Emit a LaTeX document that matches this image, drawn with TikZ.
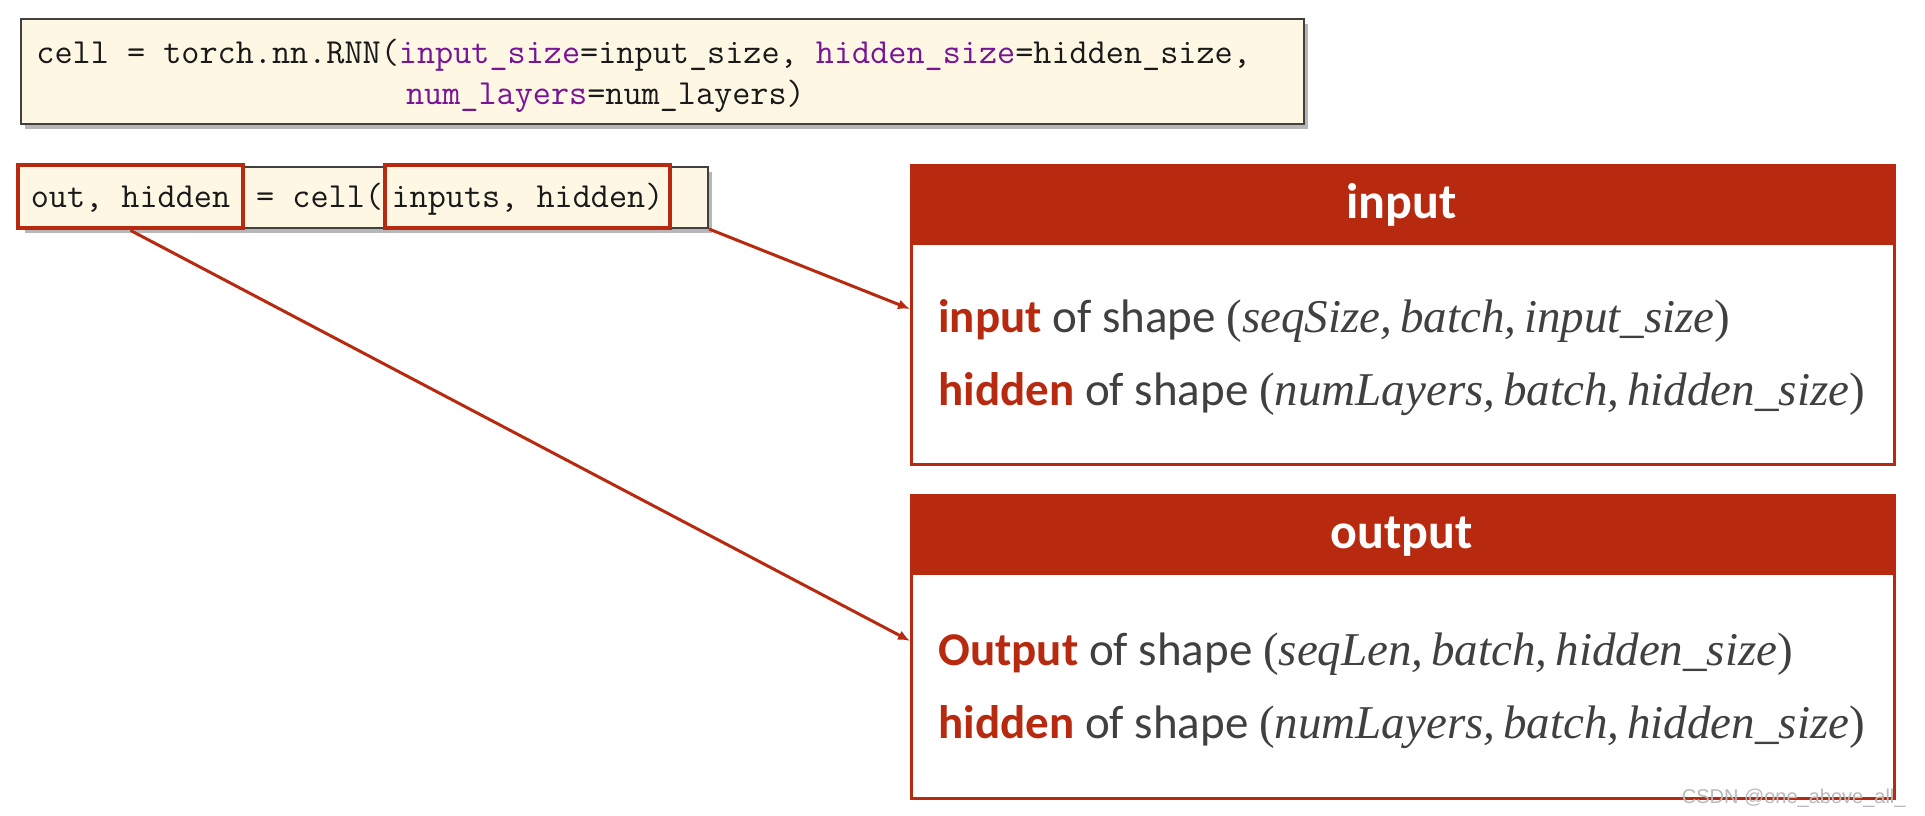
\documentclass[tikz,border=0pt]{standalone}
\usepackage{fontspec}
\setmainfont{Carlito}
\newfontfamily\markfont{Liberation Sans}
\newfontfamily\dimfont{Liberation Serif}
\usepackage{tikz}
\usetikzlibrary{arrows.meta, calc, shadows}
\definecolor{rnnRed}{RGB}{184,42,16}
\definecolor{rnnCream}{RGB}{254,247,228}
\definecolor{rnnPurple}{RGB}{120,20,150}
\definecolor{rnnGray}{RGB}{64,64,64}
\definecolor{rnnInk}{RGB}{25,25,25}
\newcommand{\argkw}[1]{\textcolor{rnnPurple}{#1}}
\newcommand{\redword}[1]{\textbf{\textcolor{rnnRed}{#1}}}
\newcommand{\dims}[1]{{\dimfont\fontsize{23.5}{28}\selectfont(\textit{#1})}}

\begin{document}
\begin{tikzpicture}[x=0.5pt, y=-0.5pt,
  codebox/.style={draw=rnnGray, line width=1pt, fill=rnnCream, inner sep=0pt,
    drop shadow={shadow xshift=2pt, shadow yshift=-2.5pt, fill=gray!80, opacity=0.7}},
  codetext/.style={inner sep=0pt, text=rnnInk, font=\ttfamily\fontsize{17.6}{20}\selectfont,
    text height=13pt, text depth=2.5pt},
  redframe/.style={codetext, draw=rnnRed, line width=2.4pt, fill=rnnCream, minimum height=31.5pt},
  boxframe/.style={draw=rnnRed, line width=1.5pt, inner sep=0pt, minimum width=491.5pt},
  headbar/.style={fill=rnnRed, inner sep=0pt, minimum width=491.5pt, minimum height=40.5pt},
  headtext/.style={text=white, font=\bfseries\fontsize{25}{30}\selectfont, inner sep=0pt},
  shapetext/.style={text=rnnGray, font=\fontsize{23.5}{28}\selectfont, inner sep=0pt},
  link/.style={draw=rnnRed, line width=1.5pt, -{Latex[length=6pt,width=5pt]}}]
  \fill[white] (0,0) rectangle (1925,815);
  \useasboundingbox (0,0) rectangle (1925,815);

  % constructor
  \node[codebox, anchor=north west, minimum width=641.5pt, minimum height=52.5pt] (rnnbox) at (20,18) {};
  \node[codetext, anchor=base west] (rnnline1) at (36,63)
    {cell = torch.nn.RNN(\argkw{input\_size}=input\_size, \argkw{hidden\_size}=hidden\_size,};
  \node[codetext, anchor=base west] (rnnline2) at (405.6,104) {\argkw{num\_layers}=num\_layers)};

  % call
  \node[codebox, anchor=north west, minimum width=343.5pt, minimum height=30.5pt] (callbox) at (20,166) {};
  \node[codetext, anchor=base west] (callmid) at (255.8,207) {= cell(};
  \node[redframe, minimum width=112.5pt] (outs) at (130.5,196.5) {out, hidden};
  \node[redframe, minimum width=142.5pt] (ins) at (527.5,196.5) {inputs, hidden)};

  % input box
  \node[headbar, anchor=north west] (inhead) at (910,164) {};
  \node[boxframe, anchor=north west, minimum height=149.5pt] (inbox) at (910,164) {};
  \node[headtext, anchor=base] (inheadtxt) at (1401.5,218) {input};
  \node[shapetext, anchor=base west] (inshape1) at (938,332)
    {\redword{input} of shape \dims{seqSize,\,batch,\,input\_size}};
  \node[shapetext, anchor=base west] (inshape2) at (938,405)
    {\redword{hidden} of shape \dims{numLayers,\,batch,\,hidden\_size}};

  % output box
  \node[headbar, anchor=north west] (outhead) at (910,494) {};
  \node[boxframe, anchor=north west, minimum height=151.5pt] (outbox) at (910,494) {};
  \node[headtext, anchor=base] (outheadtxt) at (1401.5,548) {output};
  \node[shapetext, anchor=base west] (outshape1) at (938,665)
    {\redword{Output} of shape \dims{seqLen,\,batch,\,hidden\_size}};
  \node[shapetext, anchor=base west] (outshape2) at (938,738)
    {\redword{hidden} of shape \dims{numLayers,\,batch,\,hidden\_size}};

  % arrows
  \draw[link] (callbox.south east) -- ($(inbox.north west)!0.48!(inbox.south west)$);
  \draw[link] (outs.south) -- ($(outbox.north west)!0.48!(outbox.south west)$);

  \node[anchor=base east, inner sep=0pt, text=gray!55, font=\markfont\fontsize{10}{12}\selectfont] (mark) at (1906,803) {CSDN @one\_above\_all\_};
\end{tikzpicture}
\end{document}
